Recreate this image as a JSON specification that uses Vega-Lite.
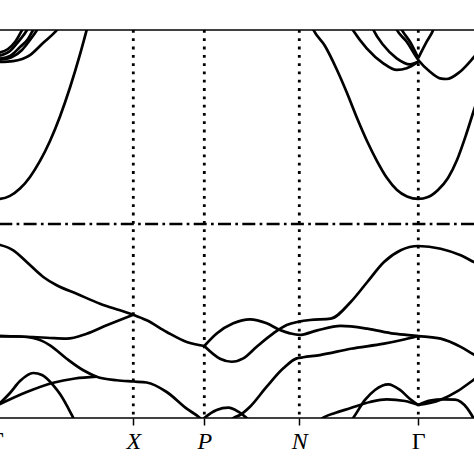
{
  "$schema": "https://vega.github.io/schema/vega-lite/v6.json",
  "width": 474,
  "height": 388,
  "autosize": {"type": "none"},
  "padding": {"left": 0, "right": 0, "top": 30, "bottom": 56},
  "background": "white",
  "config": {"view": {"stroke": null}},
  "datasets": {
    "sym": [
      {"k": -0.02, "name": "G0"},
      {"k": 1.333, "name": "X"},
      {"k": 2.043, "name": "P"},
      {"k": 2.993, "name": "N"},
      {"k": 4.183, "name": "G1"}
    ],
    "edge": [{"k": -0.03, "e": -2, "label": "Γ"}],
    "frame": [{"e": 2}, {"e": -2}],
    "fermi": [{"e": 0}],
    "bands": [
      {"b": "c1L", "k": -0.02, "e": 0.258}, {"b": "c1L", "k": 0.0, "e": 0.259}, {"b": "c1L", "k": 0.1, "e": 0.29}, {"b": "c1L", "k": 0.2, "e": 0.365}, {"b": "c1L", "k": 0.3, "e": 0.485}, {"b": "c1L", "k": 0.4, "e": 0.65}, {"b": "c1L", "k": 0.5, "e": 0.856}, {"b": "c1L", "k": 0.6, "e": 1.109}, {"b": "c1L", "k": 0.7, "e": 1.407}, {"b": "c1L", "k": 0.8, "e": 1.748}, {"b": "c1L", "k": 0.88, "e": 2.052},
      {"b": "c2", "k": -0.02, "e": 1.763}, {"b": "c2", "k": 0.08, "e": 1.804}, {"b": "c2", "k": 0.15, "e": 1.876}, {"b": "c2", "k": 0.22, "e": 2.0}, {"b": "c2", "k": 0.26, "e": 2.08},
      {"b": "c3", "k": -0.02, "e": 1.732}, {"b": "c3", "k": 0.1, "e": 1.784}, {"b": "c3", "k": 0.18, "e": 1.876}, {"b": "c3", "k": 0.27, "e": 2.0}, {"b": "c3", "k": 0.31, "e": 2.08},
      {"b": "c4", "k": -0.02, "e": 1.701}, {"b": "c4", "k": 0.1, "e": 1.732}, {"b": "c4", "k": 0.2, "e": 1.825}, {"b": "c4", "k": 0.28, "e": 1.907}, {"b": "c4", "k": 0.33, "e": 2.0}, {"b": "c4", "k": 0.37, "e": 2.08},
      {"b": "c5", "k": -0.02, "e": 1.691}, {"b": "c5", "k": 0.12, "e": 1.722}, {"b": "c5", "k": 0.22, "e": 1.794}, {"b": "c5", "k": 0.3, "e": 1.897}, {"b": "c5", "k": 0.37, "e": 2.0}, {"b": "c5", "k": 0.41, "e": 2.07},
      {"b": "c6", "k": -0.02, "e": 1.67}, {"b": "c6", "k": 0.13, "e": 1.68}, {"b": "c6", "k": 0.3, "e": 1.742}, {"b": "c6", "k": 0.43, "e": 1.866}, {"b": "c6", "k": 0.57, "e": 2.0}, {"b": "c6", "k": 0.63, "e": 2.08},
      {"b": "c1R", "k": 3.09, "e": 2.103}, {"b": "c1R", "k": 3.133, "e": 2.003}, {"b": "c1R", "k": 3.25, "e": 1.835}, {"b": "c1R", "k": 3.37, "e": 1.588}, {"b": "c1R", "k": 3.47, "e": 1.351}, {"b": "c1R", "k": 3.57, "e": 1.093}, {"b": "c1R", "k": 3.67, "e": 0.856}, {"b": "c1R", "k": 3.77, "e": 0.649}, {"b": "c1R", "k": 3.87, "e": 0.474}, {"b": "c1R", "k": 3.97, "e": 0.351}, {"b": "c1R", "k": 4.07, "e": 0.284}, {"b": "c1R", "k": 4.183, "e": 0.258}, {"b": "c1R", "k": 4.28, "e": 0.278}, {"b": "c1R", "k": 4.38, "e": 0.351}, {"b": "c1R", "k": 4.48, "e": 0.474}, {"b": "c1R", "k": 4.57, "e": 0.66}, {"b": "c1R", "k": 4.66, "e": 0.918}, {"b": "c1R", "k": 4.74, "e": 1.175}, {"b": "c1R", "k": 4.8, "e": 1.361},
      {"b": "cA", "k": 3.48, "e": 2.082}, {"b": "cA", "k": 3.527, "e": 2.003}, {"b": "cA", "k": 3.667, "e": 1.811}, {"b": "cA", "k": 3.833, "e": 1.657}, {"b": "cA", "k": 3.967, "e": 1.588}, {"b": "cA", "k": 4.067, "e": 1.605}, {"b": "cA", "k": 4.183, "e": 1.673},
      {"b": "cB", "k": 3.7, "e": 2.082}, {"b": "cB", "k": 3.733, "e": 2.003}, {"b": "cB", "k": 3.833, "e": 1.845}, {"b": "cB", "k": 3.967, "e": 1.708}, {"b": "cB", "k": 4.1, "e": 1.646}, {"b": "cB", "k": 4.183, "e": 1.673},
      {"b": "cC", "k": 3.93, "e": 2.082}, {"b": "cC", "k": 3.967, "e": 2.003}, {"b": "cC", "k": 4.067, "e": 1.879}, {"b": "cC", "k": 4.183, "e": 1.691}, {"b": "cC", "k": 4.3, "e": 1.57}, {"b": "cC", "k": 4.4, "e": 1.502}, {"b": "cC", "k": 4.467, "e": 1.495}, {"b": "cC", "k": 4.6, "e": 1.57}, {"b": "cC", "k": 4.74, "e": 1.722}, {"b": "cC", "k": 4.8, "e": 1.794},
      {"b": "cDl", "k": 3.98, "e": 2.082}, {"b": "cDl", "k": 4.017, "e": 2.003}, {"b": "cDl", "k": 4.1, "e": 1.879}, {"b": "cDl", "k": 4.183, "e": 1.711},
      {"b": "cDr", "k": 4.183, "e": 1.711}, {"b": "cDr", "k": 4.267, "e": 1.879}, {"b": "cDr", "k": 4.333, "e": 2.003}, {"b": "cDr", "k": 4.36, "e": 2.082},
      {"b": "v1", "k": -0.05, "e": -0.205}, {"b": "v1", "k": 0.0, "e": -0.216}, {"b": "v1", "k": 0.133, "e": -0.271}, {"b": "v1", "k": 0.267, "e": -0.392}, {"b": "v1", "k": 0.433, "e": -0.546}, {"b": "v1", "k": 0.567, "e": -0.632}, {"b": "v1", "k": 0.767, "e": -0.719}, {"b": "v1", "k": 1.0, "e": -0.822}, {"b": "v1", "k": 1.2, "e": -0.89}, {"b": "v1", "k": 1.333, "e": -0.935},
      {"b": "xp", "k": 1.333, "e": -0.935}, {"b": "xp", "k": 1.467, "e": -0.993}, {"b": "xp", "k": 1.667, "e": -1.113}, {"b": "xp", "k": 1.867, "e": -1.216}, {"b": "xp", "k": 2.043, "e": -1.258},
      {"b": "v2", "k": -0.02, "e": -1.155}, {"b": "v2", "k": 0.2, "e": -1.16}, {"b": "v2", "k": 0.333, "e": -1.165}, {"b": "v2", "k": 0.5, "e": -1.175}, {"b": "v2", "k": 0.667, "e": -1.182}, {"b": "v2", "k": 0.867, "e": -1.131}, {"b": "v2", "k": 1.067, "e": -1.044}, {"b": "v2", "k": 1.333, "e": -0.935},
      {"b": "v3", "k": -0.02, "e": -1.155}, {"b": "v3", "k": 0.2, "e": -1.16}, {"b": "v3", "k": 0.33, "e": -1.175}, {"b": "v3", "k": 0.42, "e": -1.205}, {"b": "v3", "k": 0.5, "e": -1.251}, {"b": "v3", "k": 0.667, "e": -1.389}, {"b": "v3", "k": 0.833, "e": -1.508}, {"b": "v3", "k": 0.967, "e": -1.574}, {"b": "v3", "k": 1.167, "e": -1.611}, {"b": "v3", "k": 1.333, "e": -1.624}, {"b": "v3", "k": 1.467, "e": -1.634}, {"b": "v3", "k": 1.667, "e": -1.732}, {"b": "v3", "k": 1.867, "e": -1.904}, {"b": "v3", "k": 2.0, "e": -2.0}, {"b": "v3", "k": 2.06, "e": -2.062},
      {"b": "v4b", "k": -0.02, "e": -1.866}, {"b": "v4b", "k": 0.267, "e": -1.732}, {"b": "v4b", "k": 0.533, "e": -1.636}, {"b": "v4b", "k": 0.75, "e": -1.593}, {"b": "v4b", "k": 0.967, "e": -1.574},
      {"b": "v4a", "k": -0.02, "e": -1.866}, {"b": "v4a", "k": 0.1, "e": -1.742}, {"b": "v4a", "k": 0.2, "e": -1.619}, {"b": "v4a", "k": 0.333, "e": -1.536}, {"b": "v4a", "k": 0.42, "e": -1.557}, {"b": "v4a", "k": 0.533, "e": -1.663}, {"b": "v4a", "k": 0.6, "e": -1.753}, {"b": "v4a", "k": 0.667, "e": -1.869}, {"b": "v4a", "k": 0.733, "e": -2.0}, {"b": "v4a", "k": 0.76, "e": -2.055},
      {"b": "p1", "k": 2.043, "e": -1.258}, {"b": "p1", "k": 2.167, "e": -1.129}, {"b": "p1", "k": 2.333, "e": -1.024}, {"b": "p1", "k": 2.5, "e": -0.983}, {"b": "p1", "k": 2.667, "e": -1.024}, {"b": "p1", "k": 2.8, "e": -1.093}, {"b": "p1", "k": 2.9, "e": -1.127}, {"b": "p1", "k": 2.993, "e": -1.144}, {"b": "p1", "k": 3.173, "e": -1.096}, {"b": "p1", "k": 3.407, "e": -1.051}, {"b": "p1", "k": 3.673, "e": -1.079}, {"b": "p1", "k": 3.94, "e": -1.131}, {"b": "p1", "k": 4.183, "e": -1.155}, {"b": "p1", "k": 4.407, "e": -1.182}, {"b": "p1", "k": 4.607, "e": -1.267}, {"b": "p1", "k": 4.74, "e": -1.347}, {"b": "p1", "k": 4.8, "e": -1.381},
      {"b": "p2", "k": 2.043, "e": -1.258}, {"b": "p2", "k": 2.2, "e": -1.389}, {"b": "p2", "k": 2.317, "e": -1.42}, {"b": "p2", "k": 2.433, "e": -1.385}, {"b": "p2", "k": 2.567, "e": -1.265}, {"b": "p2", "k": 2.733, "e": -1.127}, {"b": "p2", "k": 2.867, "e": -1.041}, {"b": "p2", "k": 2.99, "e": -1.007}, {"b": "p2", "k": 3.1, "e": -0.99}, {"b": "p2", "k": 3.307, "e": -0.976}, {"b": "p2", "k": 3.507, "e": -0.804}, {"b": "p2", "k": 3.673, "e": -0.598}, {"b": "p2", "k": 3.84, "e": -0.392}, {"b": "p2", "k": 4.007, "e": -0.271}, {"b": "p2", "k": 4.183, "e": -0.227}, {"b": "p2", "k": 4.407, "e": -0.255}, {"b": "p2", "k": 4.607, "e": -0.323}, {"b": "p2", "k": 4.74, "e": -0.392}, {"b": "p2", "k": 4.8, "e": -0.423},
      {"b": "nl", "k": 2.26, "e": -2.072}, {"b": "nl", "k": 2.333, "e": -2.0}, {"b": "nl", "k": 2.4, "e": -1.969}, {"b": "nl", "k": 2.5, "e": -1.884}, {"b": "nl", "k": 2.667, "e": -1.677}, {"b": "nl", "k": 2.833, "e": -1.488}, {"b": "nl", "k": 2.967, "e": -1.385}, {"b": "nl", "k": 3.033, "e": -1.374}, {"b": "nl", "k": 3.2, "e": -1.351}, {"b": "nl", "k": 3.507, "e": -1.286}, {"b": "nl", "k": 3.84, "e": -1.234}, {"b": "nl", "k": 4.007, "e": -1.199}, {"b": "nl", "k": 4.183, "e": -1.155},
      {"b": "pb", "k": 2.0, "e": -2.04}, {"b": "pb", "k": 2.043, "e": -2.0}, {"b": "pb", "k": 2.167, "e": -1.918}, {"b": "pb", "k": 2.283, "e": -1.894}, {"b": "pb", "k": 2.383, "e": -1.935}, {"b": "pb", "k": 2.467, "e": -2.0}, {"b": "pb", "k": 2.5, "e": -2.031},
      {"b": "gb1", "k": 3.5, "e": -2.041}, {"b": "gb1", "k": 3.533, "e": -1.997}, {"b": "gb1", "k": 3.65, "e": -1.814}, {"b": "gb1", "k": 3.75, "e": -1.711}, {"b": "gb1", "k": 3.883, "e": -1.653}, {"b": "gb1", "k": 4.0, "e": -1.711}, {"b": "gb1", "k": 4.1, "e": -1.804}, {"b": "gb1", "k": 4.183, "e": -1.866},
      {"b": "gb2", "k": 3.18, "e": -2.041}, {"b": "gb2", "k": 3.233, "e": -1.997}, {"b": "gb2", "k": 3.35, "e": -1.948}, {"b": "gb2", "k": 3.5, "e": -1.9}, {"b": "gb2", "k": 3.7, "e": -1.835}, {"b": "gb2", "k": 3.867, "e": -1.807}, {"b": "gb2", "k": 4.05, "e": -1.825}, {"b": "gb2", "k": 4.183, "e": -1.866},
      {"b": "gb3", "k": 4.183, "e": -1.866}, {"b": "gb3", "k": 4.3, "e": -1.82}, {"b": "gb3", "k": 4.433, "e": -1.807}, {"b": "gb3", "k": 4.55, "e": -1.81}, {"b": "gb3", "k": 4.673, "e": -1.9}, {"b": "gb3", "k": 4.733, "e": -1.997}, {"b": "gb3", "k": 4.76, "e": -2.04},
      {"b": "gb4", "k": 4.183, "e": -1.866}, {"b": "gb4", "k": 4.4, "e": -1.814}, {"b": "gb4", "k": 4.58, "e": -1.72}, {"b": "gb4", "k": 4.733, "e": -1.608}, {"b": "gb4", "k": 4.8, "e": -1.557}
    ]
  },
  "layer": [
    {
      "data": {"name": "sym"},
      "mark": {"type": "rule", "color": "black", "strokeWidth": 2.8, "strokeDash": [2.8, 5.5]},
      "encoding": {
        "x": {
          "field": "k", "type": "quantitative",
          "scale": {"domain": [0, 4.74], "nice": false, "zero": false},
          "axis": {
            "values": [1.333, 2.043, 2.993, 4.183],
            "domain": false, "grid": false, "title": null,
            "tickSize": 7, "tickWidth": 1.5, "tickColor": "black",
            "labelFont": "Liberation Serif", "labelFontSize": 24, "labelColor": "black",
            "labelPadding": 4, "labelOverlap": false, "labelFlush": false, "labelBound": false,
            "labelExpr": "datum.value < 1.5 ? 'X' : datum.value < 2.5 ? 'P' : datum.value < 3.5 ? 'N' : 'Γ'",
            "labelFontStyle": {"condition": {"test": "datum.value > 4", "value": "normal"}, "value": "italic"}
          }
        }
      }
    },
    {
      "data": {"name": "edge"},
      "mark": {"type": "text", "font": "Liberation Serif", "fontSize": 24, "baseline": "top", "align": "center", "dy": 11, "color": "black"},
      "encoding": {
        "x": {"field": "k", "type": "quantitative"},
        "y": {"field": "e", "type": "quantitative", "axis": null},
        "text": {"field": "label"}
      }
    },
    {
      "data": {"name": "fermi"},
      "mark": {"type": "rule", "color": "black", "strokeWidth": 2.6, "strokeDash": [13, 4.3, 2.7, 4.3]},
      "encoding": {"y": {"field": "e", "type": "quantitative", "scale": {"domain": [-2, 2], "nice": false, "zero": false}, "axis": null}}
    },
    {
      "data": {"name": "bands"},
      "mark": {"type": "line", "color": "black", "strokeWidth": 2.7, "interpolate": "monotone", "clip": true},
      "encoding": {
        "x": {"field": "k", "type": "quantitative"},
        "y": {"field": "e", "type": "quantitative", "axis": null},
        "detail": {"field": "b", "type": "nominal"}
      }
    },
    {
      "data": {"name": "frame"},
      "mark": {"type": "rule", "color": "black", "strokeWidth": 1.4},
      "encoding": {"y": {"field": "e", "type": "quantitative", "axis": null}}
    }
  ]
}
